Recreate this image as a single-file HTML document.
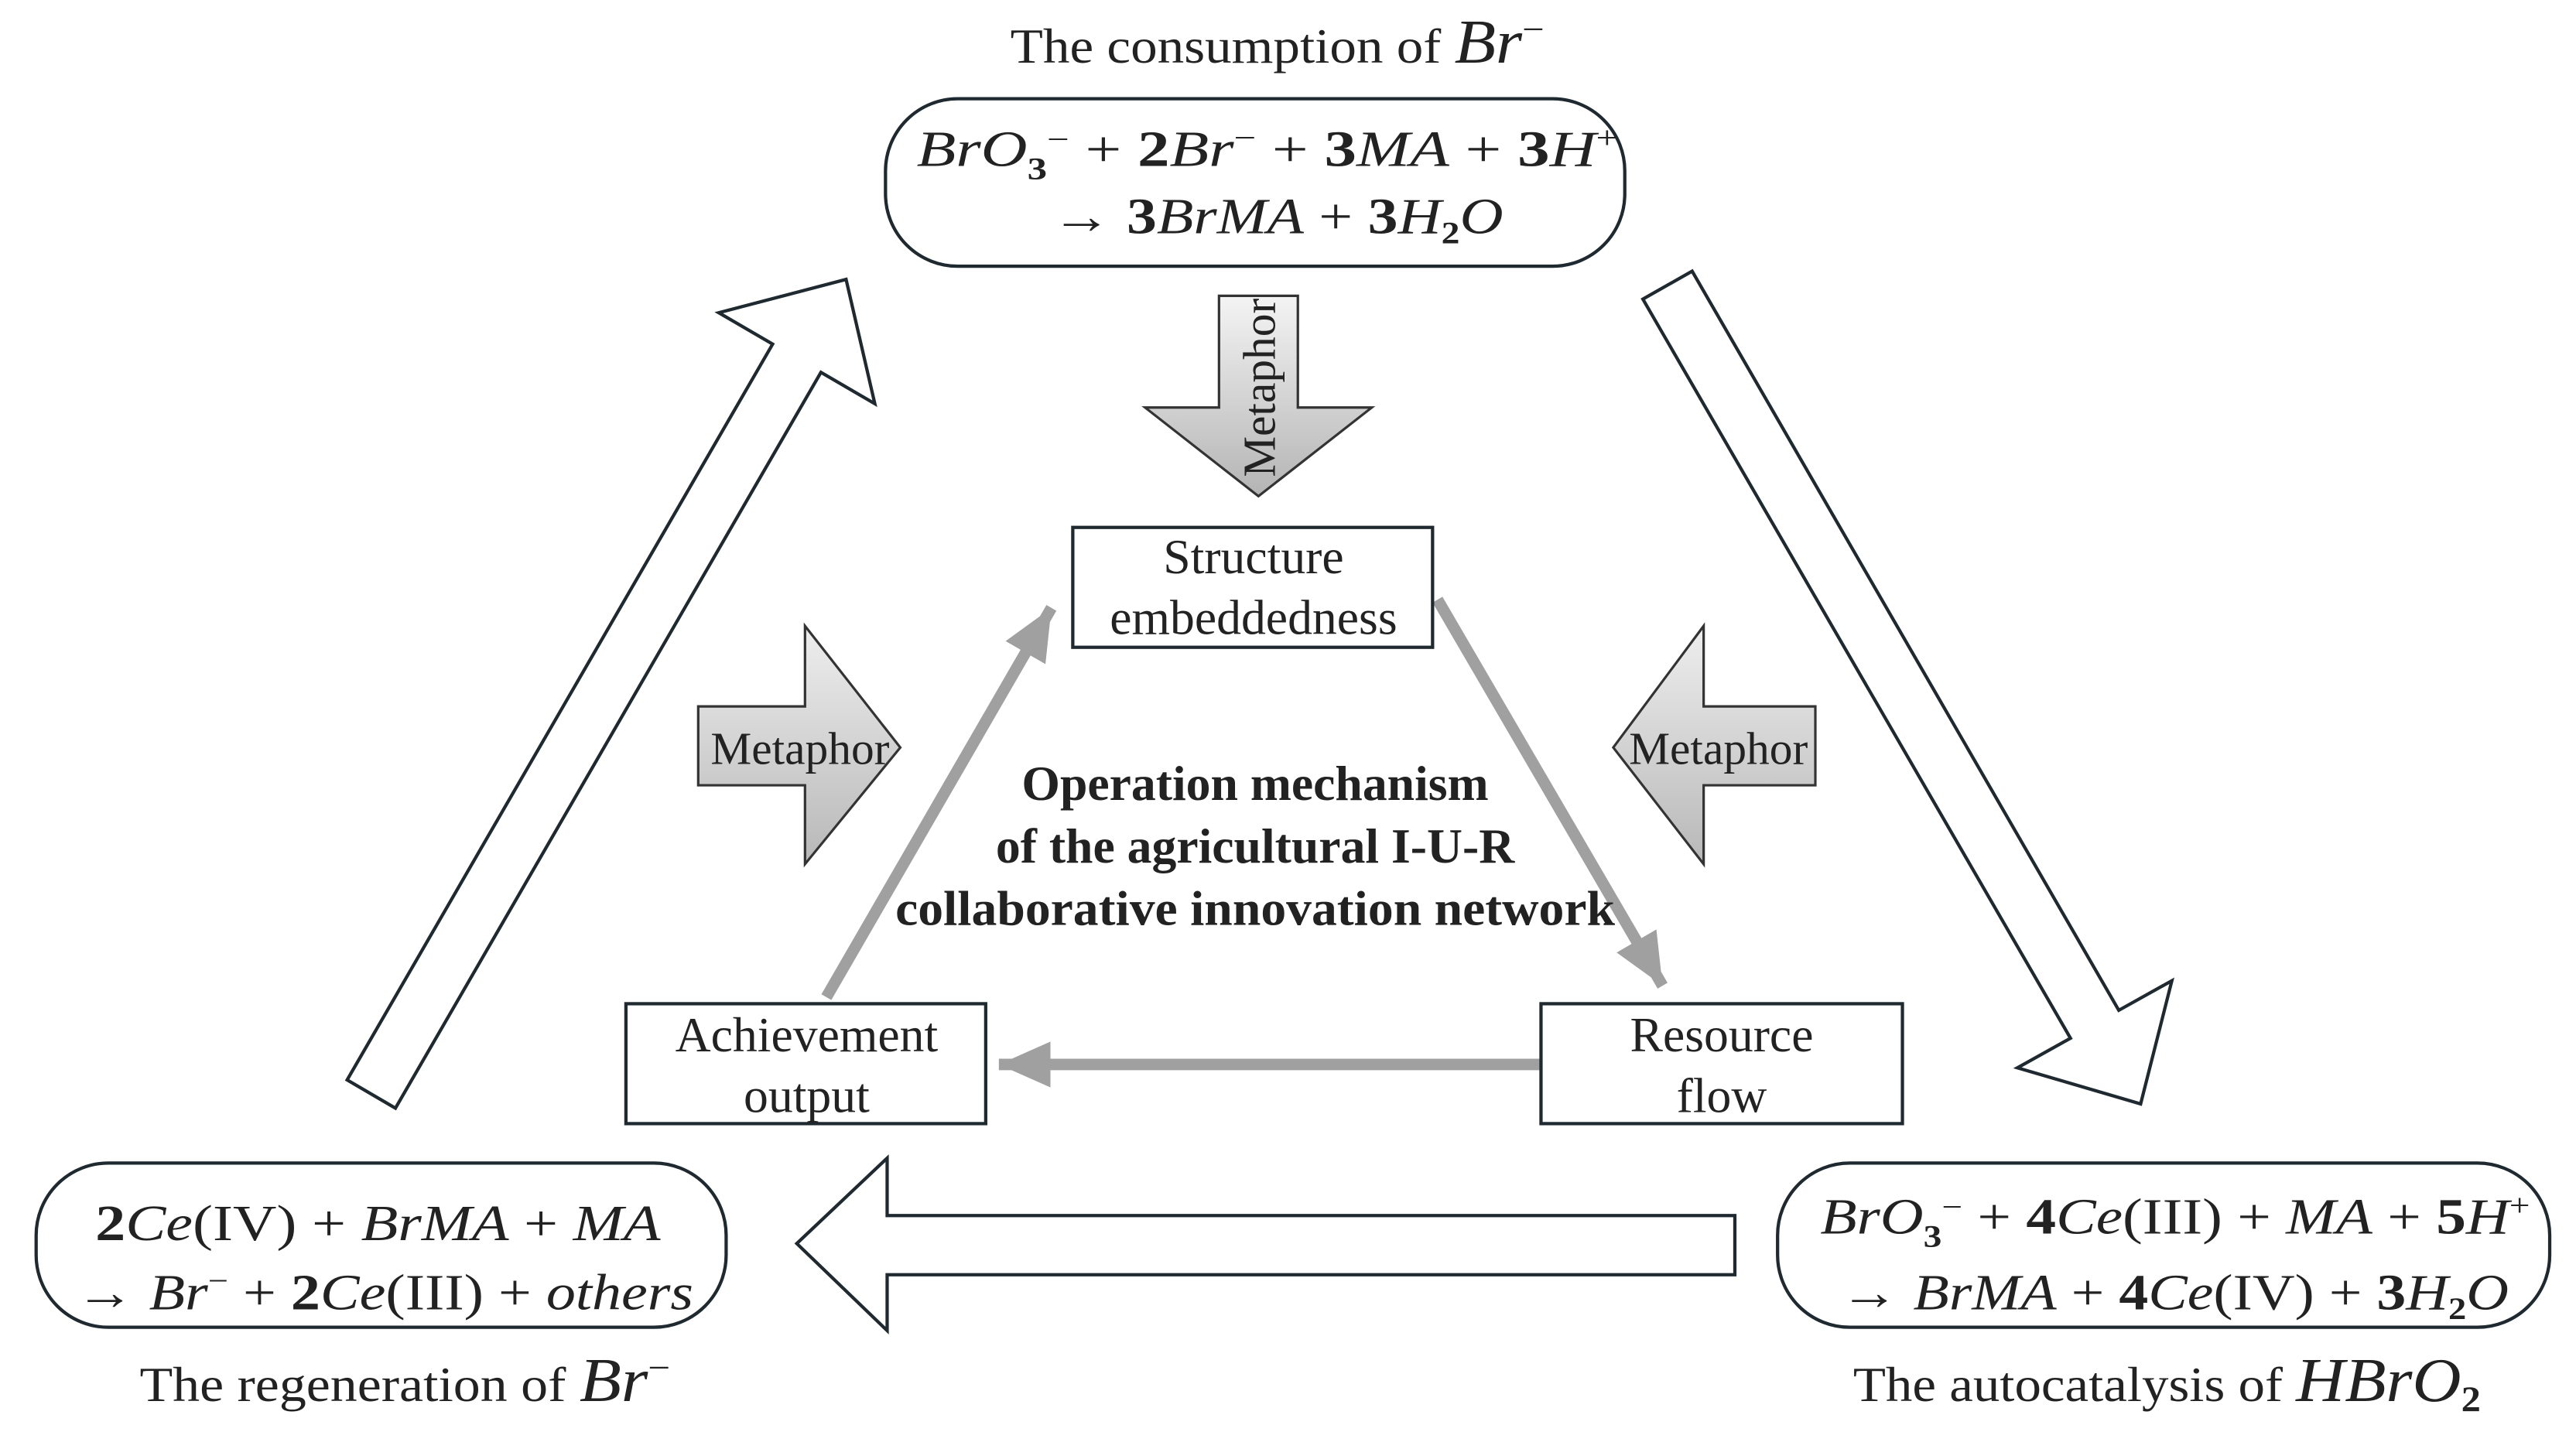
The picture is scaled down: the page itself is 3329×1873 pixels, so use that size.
<!DOCTYPE html>
<html><head><meta charset="utf-8"><style>
html,body{margin:0;padding:0;background:#fff;}
svg{display:block;}
text{font-family:"Liberation Serif",serif;fill:#222;}
.m{font-style:italic;}
.b{font-weight:bold;font-style:normal;}
</style></head><body>
<svg width="3329" height="1873" viewBox="0 0 1568 882" xmlns="http://www.w3.org/2000/svg">
<defs>
<linearGradient id="gv" x1="0" y1="0" x2="0" y2="1"><stop offset="0" stop-color="#f4f4f4"/><stop offset="1" stop-color="#b4b4b4"/></linearGradient>
<linearGradient id="gh" x1="0" y1="0" x2="0" y2="1"><stop offset="0" stop-color="#eeeeee"/><stop offset="1" stop-color="#b8b8b8"/></linearGradient>
<marker id="ah" markerWidth="6" markerHeight="6" refX="4.5" refY="3" orient="auto" markerUnits="strokeWidth"><path d="M0,1 L4.5,3 L0,5 Z" fill="#a0a0a0"/></marker>
</defs>

<!-- captions -->
<text x="615" y="38" font-size="30" textLength="325" lengthAdjust="spacingAndGlyphs">The consumption of <tspan class="m" font-size="38">Br</tspan><tspan font-size="22" dy="-13">−</tspan></text>
<text x="85" y="853" font-size="30" textLength="323" lengthAdjust="spacingAndGlyphs">The regeneration of <tspan class="m" font-size="38">Br</tspan><tspan font-size="22" dy="-13">−</tspan></text>
<text x="1128" y="853" font-size="30" textLength="382" lengthAdjust="spacingAndGlyphs">The autocatalysis of <tspan class="m" font-size="38">HBrO</tspan><tspan class="b" font-size="22" dy="6">2</tspan></text>

<!-- top rounded box -->
<rect x="539" y="60" width="450" height="102" rx="44" fill="#fff" stroke="#1e2a30" stroke-width="2"/>
<text x="558" y="101" font-size="31" textLength="427" lengthAdjust="spacingAndGlyphs"><tspan class="m">BrO</tspan><tspan font-size="19" dy="8" class="b">3</tspan><tspan font-size="19" dy="-18">−</tspan><tspan dy="10"> + </tspan><tspan class="b">2</tspan><tspan class="m">Br</tspan><tspan font-size="19" dy="-11">−</tspan><tspan dy="11"> + </tspan><tspan class="b">3</tspan><tspan class="m">MA</tspan> + <tspan class="b">3</tspan><tspan class="m">H</tspan><tspan font-size="19" dy="-11">+</tspan></text>
<text x="640" y="142" font-size="31" textLength="275" lengthAdjust="spacingAndGlyphs">→ <tspan class="b">3</tspan><tspan class="m">BrMA</tspan> + <tspan class="b">3</tspan><tspan class="m">H</tspan><tspan font-size="19" dy="6" class="b">2</tspan><tspan dy="-6" class="m">O</tspan></text>

<!-- bottom-left rounded box -->
<rect x="22" y="708" width="420" height="100" rx="44" fill="#fff" stroke="#1e2a30" stroke-width="2"/>
<text x="58" y="755" font-size="31" textLength="344" lengthAdjust="spacingAndGlyphs"><tspan class="b">2</tspan><tspan class="m">Ce</tspan>(IV) + <tspan class="m">BrMA</tspan> + <tspan class="m">MA</tspan></text>
<text x="46" y="797" font-size="31" textLength="376" lengthAdjust="spacingAndGlyphs">→ <tspan class="m">Br</tspan><tspan font-size="19" dy="-11">−</tspan><tspan dy="11"> + </tspan><tspan class="b">2</tspan><tspan class="m">Ce</tspan>(III) + <tspan class="m">others</tspan></text>

<!-- bottom-right rounded box -->
<rect x="1082" y="708" width="470" height="100" rx="44" fill="#fff" stroke="#1e2a30" stroke-width="2"/>
<text x="1108" y="751" font-size="31" textLength="432" lengthAdjust="spacingAndGlyphs"><tspan class="m">BrO</tspan><tspan font-size="19" dy="8" class="b">3</tspan><tspan font-size="19" dy="-18">−</tspan><tspan dy="10"> + </tspan><tspan class="b">4</tspan><tspan class="m">Ce</tspan>(III) + <tspan class="m">MA</tspan> + <tspan class="b">5</tspan><tspan class="m">H</tspan><tspan font-size="19" dy="-11">+</tspan></text>
<text x="1120" y="797" font-size="31" textLength="407" lengthAdjust="spacingAndGlyphs">→ <tspan class="m">BrMA</tspan> + <tspan class="b">4</tspan><tspan class="m">Ce</tspan>(IV) + <tspan class="b">3</tspan><tspan class="m">H</tspan><tspan font-size="19" dy="6" class="b">2</tspan><tspan dy="-6" class="m">O</tspan></text>

<!-- big hollow arrows -->
<polygon points="211.3,657.4 470.3,209.4 437.5,190.3 515,170 532.5,245.7 499.7,226.6 240.7,674.6" fill="#fff" stroke="#1e2a30" stroke-width="2"/>
<polygon points="1000,182 1260.3,632 1228,650 1303,672 1322,597 1289.7,615 1030,165" fill="#fff" stroke="#1e2a30" stroke-width="2"/>
<polygon points="1056,740 540,740 540,705 485,757 540,810 540,776 1056,776" fill="#fff" stroke="#1e2a30" stroke-width="2"/>

<!-- metaphor arrows -->
<polygon points="742,180 790,180 790,248 835,248 766,302 697,248 742,248" fill="url(#gv)" stroke="#333" stroke-width="1.5"/>
<text transform="translate(776,236) rotate(-90)" font-size="28" text-anchor="middle">Metaphor</text>
<polygon points="425,430 490,430 490,381 548,455 490,526 490,478 425,478" fill="url(#gh)" stroke="#333" stroke-width="1.5"/>
<text x="487" y="465" font-size="28" text-anchor="middle">Metaphor</text>
<polygon points="1105,430 1037,430 1037,381 982,455 1037,526 1037,478 1105,478" fill="url(#gh)" stroke="#333" stroke-width="1.5"/>
<text x="1046" y="465" font-size="28" text-anchor="middle">Metaphor</text>

<!-- gray connectors -->
<line x1="503" y1="607" x2="640" y2="370" stroke="#a0a0a0" stroke-width="7" marker-end="url(#ah)"/>
<line x1="875" y1="365" x2="1012" y2="600" stroke="#a0a0a0" stroke-width="7" marker-end="url(#ah)"/>
<line x1="938" y1="648" x2="608" y2="648" stroke="#a0a0a0" stroke-width="7" marker-end="url(#ah)"/>

<!-- node boxes -->
<rect x="653" y="321" width="219" height="73" fill="#fff" stroke="#1e2a30" stroke-width="2"/>
<text x="763" y="349" font-size="30" text-anchor="middle">Structure</text>
<text x="763" y="386" font-size="30" text-anchor="middle">embeddedness</text>
<rect x="381" y="611" width="219" height="73" fill="#fff" stroke="#1e2a30" stroke-width="2"/>
<text x="491" y="640" font-size="30" text-anchor="middle">Achievement</text>
<text x="491" y="677" font-size="30" text-anchor="middle">output</text>
<rect x="938" y="611" width="220" height="73" fill="#fff" stroke="#1e2a30" stroke-width="2"/>
<text x="1048" y="640" font-size="30" text-anchor="middle">Resource</text>
<text x="1048" y="677" font-size="30" text-anchor="middle">flow</text>

<!-- center text -->
<text x="764" y="487" font-size="30" font-weight="bold" text-anchor="middle">Operation mechanism</text>
<text x="764" y="525" font-size="30" font-weight="bold" text-anchor="middle">of the agricultural I-U-R</text>
<text x="764" y="563" font-size="30" font-weight="bold" text-anchor="middle" textLength="438" lengthAdjust="spacingAndGlyphs">collaborative innovation network</text>
</svg>
</body></html>
